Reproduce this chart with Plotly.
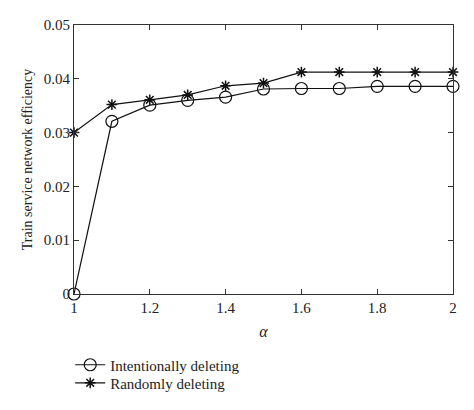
import plotly.graph_objects as go

alpha = [1.0, 1.1, 1.2, 1.3, 1.4, 1.5, 1.6, 1.7, 1.8, 1.9, 2.0]
intentional = [0.0, 0.0321, 0.0351, 0.0360, 0.0366, 0.0381, 0.0382, 0.0382, 0.0386, 0.0386, 0.0386]
random_del = [0.0300, 0.0352, 0.0361, 0.0370, 0.0387, 0.0392, 0.04125, 0.04125, 0.04125, 0.04125, 0.04125]

xticks = [1, 1.2, 1.4, 1.6, 1.8, 2]
xticklabels = ["1", "1.2", "1.4", "1.6", "1.8", "2"]
yticks = [0, 0.01, 0.02, 0.03, 0.04, 0.05]
yticklabels = ["0", "0.01", "0.02", "0.03", "0.04", "0.05"]

font = "Liberation Serif, Times New Roman, serif"

fig = go.Figure()
fig.add_trace(go.Scatter(
    x=alpha, y=intentional, mode="lines+markers", name="Intentionally deleting",
    line=dict(color="#111", width=1.2),
    marker=dict(symbol="circle-open", size=12, color="#111", line=dict(width=1.2)),
    cliponaxis=False, legend="legend",
))
fig.add_trace(go.Scatter(
    x=alpha, y=random_del, mode="lines+markers", name="Randomly deleting",
    line=dict(color="#111", width=1.2),
    marker=dict(symbol="asterisk-open", size=9, color="#111", line=dict(width=1.5, color="#111")),
    cliponaxis=False, legend="legend2",
))

axis_common = dict(
    showline=True, linecolor="#333", linewidth=1.2, mirror="ticks",
    ticks="inside", ticklen=5, tickcolor="#333", tickwidth=1,
    showgrid=False, zeroline=False,
    tickfont=dict(family=font, size=15, color="#222"),
)

legend_common = dict(xanchor="left", yanchor="middle",
                     font=dict(family=font, size=15, color="#222"),
                     bgcolor="rgba(0,0,0,0)", itemwidth=30, borderwidth=0)

fig.update_layout(
    width=474, height=410,
    margin=dict(l=74, r=21, t=25, b=116, autoexpand=False),
    paper_bgcolor="white", plot_bgcolor="white",
    font=dict(family=font, color="#222"),
    xaxis=dict(range=[1, 2], tickvals=xticks, ticktext=xticklabels,
               title=dict(text="<i>α</i>", font=dict(family=font, size=16), standoff=10),
               **axis_common),
    yaxis=dict(range=[0, 0.05], tickvals=yticks, ticktext=yticklabels,
               title=dict(text="Train service network efficiency", font=dict(family=font, size=14), standoff=7),
               **axis_common),
    showlegend=True,
    legend=dict(x=-0.01, y=-0.264, **legend_common),
    legend2=dict(x=-0.01, y=-0.331, **legend_common),
)

fig.write_html("out.html")
